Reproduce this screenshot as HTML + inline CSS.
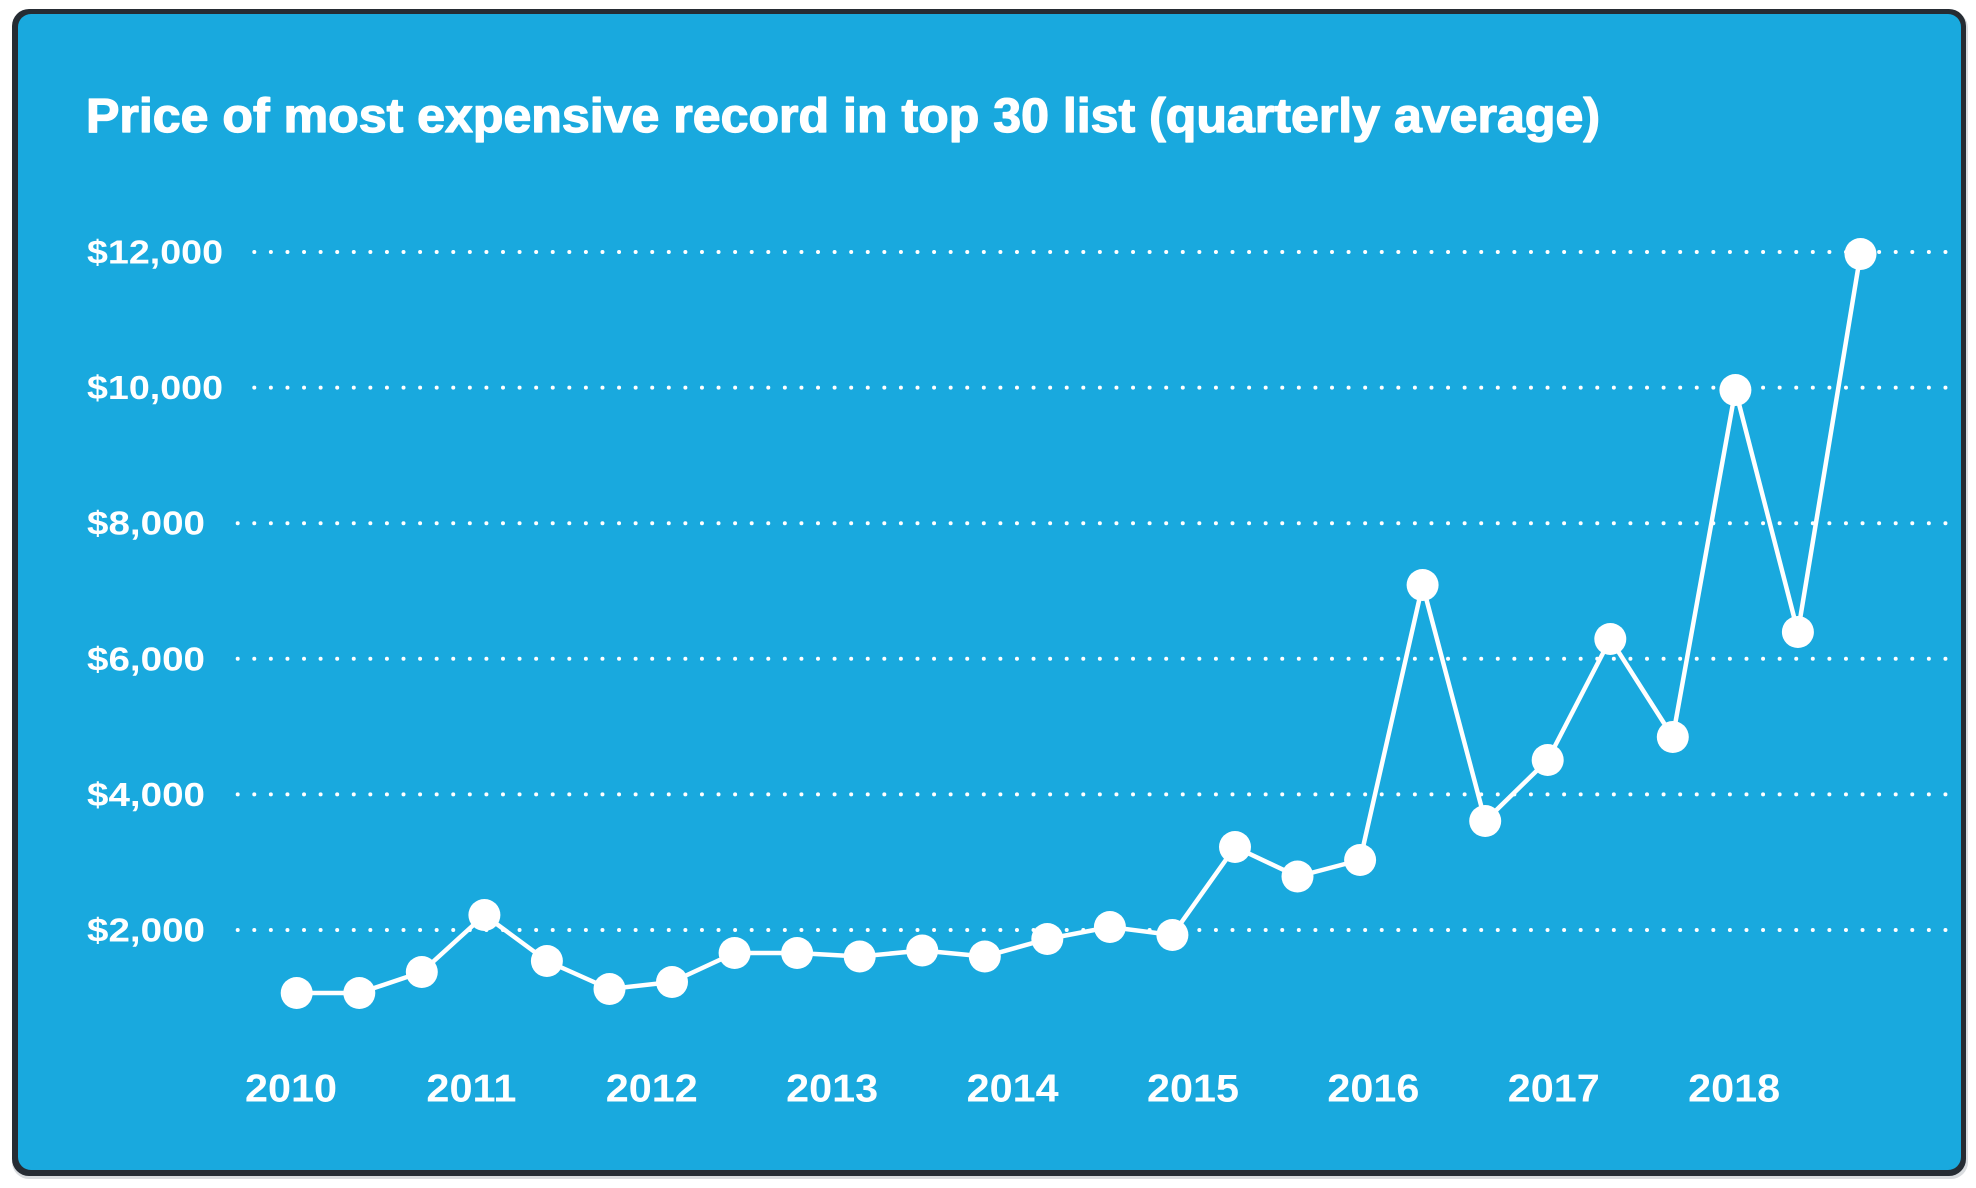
<!DOCTYPE html>
<html>
<head>
<meta charset="utf-8">
<style>
  html,body{margin:0;padding:0;background:#ffffff;}
  body{width:1976px;height:1188px;overflow:hidden;}
  svg{display:block;}
  text{font-family:"Liberation Sans",sans-serif;font-weight:bold;fill:#ffffff;}
</style>
</head>
<body>
<svg width="1976" height="1188" viewBox="0 0 1976 1188" xmlns="http://www.w3.org/2000/svg">
  <rect x="0" y="0" width="1976" height="1188" fill="#ffffff"/>
  <!-- soft shadow -->
  <rect x="12" y="11" width="1956" height="1168" rx="17" ry="17" fill="#d9dcdf"/>
  <!-- card border -->
  <rect x="12" y="9" width="1954" height="1167" rx="17" ry="17" fill="#262c33"/>
  <!-- card body -->
  <rect x="18" y="14" width="1943" height="1156" rx="13" ry="13" fill="#19a9de"/>

  <!-- title -->
  <text x="86" y="132" font-size="48" textLength="1514" lengthAdjust="spacingAndGlyphs" stroke="#ffffff" stroke-width="1.3" stroke-linejoin="round">Price of most expensive record in top 30 list (quarterly average)</text>

  <!-- gridlines (dotted) -->
  <g stroke="#ffffff" stroke-width="4" stroke-linecap="round" stroke-dasharray="0 16.58" fill="none">
    <line x1="254.3" y1="252" x2="1962" y2="252"/>
    <line x1="254.3" y1="387.6" x2="1962" y2="387.6"/>
    <line x1="237.7" y1="523.2" x2="1962" y2="523.2"/>
    <line x1="237.7" y1="658.8" x2="1962" y2="658.8"/>
    <line x1="237.7" y1="794.4" x2="1962" y2="794.4"/>
    <line x1="237.7" y1="930" x2="1962" y2="930"/>
  </g>

  <!-- y labels -->
  <g font-size="33">
    <text x="87" y="263.5" textLength="136" lengthAdjust="spacingAndGlyphs">$12,000</text>
    <text x="87" y="399.1" textLength="136" lengthAdjust="spacingAndGlyphs">$10,000</text>
    <text x="87" y="534.7" textLength="118" lengthAdjust="spacingAndGlyphs">$8,000</text>
    <text x="87" y="670.3" textLength="118" lengthAdjust="spacingAndGlyphs">$6,000</text>
    <text x="87" y="805.9" textLength="118" lengthAdjust="spacingAndGlyphs">$4,000</text>
    <text x="87" y="941.5" textLength="118" lengthAdjust="spacingAndGlyphs">$2,000</text>
  </g>

  <!-- x labels -->
  <g font-size="39" text-anchor="middle">
    <text x="291" y="1101.5" textLength="92" lengthAdjust="spacingAndGlyphs">2010</text>
    <text x="471.4" y="1101.5" textLength="90" lengthAdjust="spacingAndGlyphs">2011</text>
    <text x="651.8" y="1101.5" textLength="92" lengthAdjust="spacingAndGlyphs">2012</text>
    <text x="832.2" y="1101.5" textLength="92" lengthAdjust="spacingAndGlyphs">2013</text>
    <text x="1012.6" y="1101.5" textLength="92" lengthAdjust="spacingAndGlyphs">2014</text>
    <text x="1193" y="1101.5" textLength="92" lengthAdjust="spacingAndGlyphs">2015</text>
    <text x="1373.4" y="1101.5" textLength="92" lengthAdjust="spacingAndGlyphs">2016</text>
    <text x="1553.8" y="1101.5" textLength="92" lengthAdjust="spacingAndGlyphs">2017</text>
    <text x="1734.2" y="1101.5" textLength="92" lengthAdjust="spacingAndGlyphs">2018</text>
  </g>

  <!-- series line -->
  <polyline fill="none" stroke="#ffffff" stroke-width="4.5" stroke-linejoin="round"
    points="296.7,993 359.3,993 421.8,972 484.4,915 546.9,961 609.5,989 672.0,982 734.6,953 797.1,953 859.7,956.5 922.2,950.5 984.8,956.5 1047.3,939 1109.9,927 1172.4,935 1235.0,847 1297.5,876.5 1360.1,860 1422.6,585 1485.2,821 1547.7,760 1610.3,639 1672.8,737 1735.4,390 1797.9,632 1860.5,254"/>

  <!-- markers -->
  <g fill="#ffffff">
    <circle cx="296.7" cy="993" r="16"/>
    <circle cx="359.3" cy="993" r="16"/>
    <circle cx="421.8" cy="972" r="16"/>
    <circle cx="484.4" cy="915" r="16"/>
    <circle cx="546.9" cy="961" r="16"/>
    <circle cx="609.5" cy="989" r="16"/>
    <circle cx="672.0" cy="982" r="16"/>
    <circle cx="734.6" cy="953" r="16"/>
    <circle cx="797.1" cy="953" r="16"/>
    <circle cx="859.7" cy="956.5" r="16"/>
    <circle cx="922.2" cy="950.5" r="16"/>
    <circle cx="984.8" cy="956.5" r="16"/>
    <circle cx="1047.3" cy="939" r="16"/>
    <circle cx="1109.9" cy="927" r="16"/>
    <circle cx="1172.4" cy="935" r="16"/>
    <circle cx="1235.0" cy="847" r="16"/>
    <circle cx="1297.5" cy="876.5" r="16"/>
    <circle cx="1360.1" cy="860" r="16"/>
    <circle cx="1422.6" cy="585" r="16"/>
    <circle cx="1485.2" cy="821" r="16"/>
    <circle cx="1547.7" cy="760" r="16"/>
    <circle cx="1610.3" cy="639" r="16"/>
    <circle cx="1672.8" cy="737" r="16"/>
    <circle cx="1735.4" cy="390" r="16"/>
    <circle cx="1797.9" cy="632" r="16"/>
    <circle cx="1860.5" cy="254" r="16"/>
  </g>
</svg>
</body>
</html>
